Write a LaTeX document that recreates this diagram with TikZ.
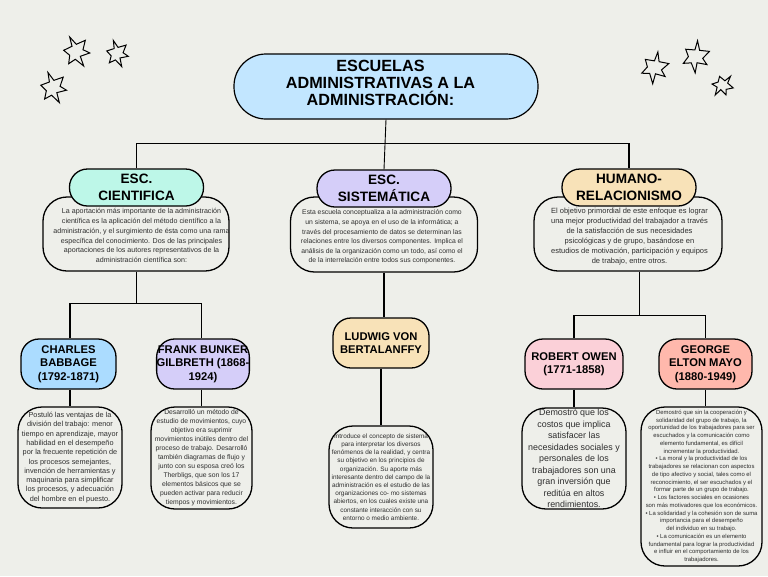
\documentclass[tikz,border=0pt]{standalone}
\usepackage{fontspec}
\setmainfont{Liberation Sans}
\definecolor{paper}{HTML}{EEEFEA}
\definecolor{inkgray}{HTML}{2E2E2E}
\definecolor{skyblue}{HTML}{C2E6FF}
\definecolor{mint}{HTML}{BDF7E8}
\definecolor{lilac}{HTML}{D5CEF9}
\definecolor{sand}{HTML}{F8E2B8}
\definecolor{babyblue}{HTML}{ABDCFF}
\definecolor{rosy}{HTML}{FBD0D8}
\definecolor{salmon}{HTML}{FFB8AC}
\newcommand{\sizedfont}[2]{\fontsize{#1}{#2}\selectfont}
\begin{document}
\begin{tikzpicture}[x=1pt, y=-1pt]
	\tikzstyle{title}  = [draw=black, line width=1.2pt, fill=skyblue, rounded corners=32pt, minimum width=304pt, minimum height=65pt, inner sep=0pt]
	\tikzstyle{titletext} = [inner sep=0pt, align=center, font=\sizedfont{16.2}{17}\bfseries]
	\tikzstyle{school} = [draw=black, line width=1.3pt, rounded corners=18pt, minimum width=134pt, minimum height=37pt, inner sep=0pt, align=center, font=\sizedfont{13.6}{16.5}\bfseries]
	\tikzstyle{person} = [draw=black, line width=1.3pt, rounded corners=18pt, minimum height=50pt, inner sep=0pt, align=center, font=\sizedfont{11.2}{13.5}\bfseries]
	\tikzstyle{blurb}  = [draw=black, line width=1.3pt, fill=paper, text=inkgray, rounded corners=24pt, inner sep=0pt, align=center]
	\tikzstyle{blurbtext} = [text=inkgray, inner sep=0pt, align=center]
	\tikzstyle{link}   = [draw=black, line width=1.5pt]
	\tikzstyle{doodle} = [draw=black, line width=1pt, line join=miter]

	\useasboundingbox (0, 0) rectangle (768, 576);
	\fill[paper] (0, 0) rectangle (768, 576);

	\foreach \x/\y/\s/\r in {76/51/1/0, 117/53/0.85/-8, 53/87/1/-5, 655/67/1/-35, 696/56/1/-30, 723/85/0.75/-65}
		\draw[doodle, shift={(\x, \y)}, rotate=\r, scale=\s] (-6.3,-14) -- (0.3,-6.7) -- (9.3,-10.7) -- (7,-1.3) -- (13.7,2) -- (4.3,5.3) -- (7.7,15) -- (-0.7,8.3) -- (-7.3,12.7) -- (-6.3,4.3) -- (-12.3,-0.7) -- (-4,-4.7) -- cycle;

	\node[title] (root) at (386, 86.5) {};
	\node[titletext] (roottext) at (380.5, 82.5) {ESCUELAS\\ADMINISTRATIVAS A LA\\ADMINISTRACIÓN:};

	% the boxes with the long texts go first, the titles sit on their top edge
	\node[blurb, minimum width=186pt, minimum height=74pt] (cientdesc) at (136, 234) {};
	\node[blurb, minimum width=187pt, minimum height=75pt] (sistdesc) at (384, 234.5) {};
	\node[blurb, minimum width=188pt, minimum height=74pt] (humandesc) at (628, 234) {};

	\node[blurbtext, font=\sizedfont{7.1}{9.9}] (cienttext) at (141.5, 235.5) {La aportación más importante de la administración\\científica es la aplicación del método científico a la\\administración, y el surgimiento de ésta como una rama\\específica del conocimiento. Dos de las principales\\aportaciones de los autores representativos de la\\administración científica son:};
	\node[blurbtext, font=\sizedfont{6.8}{9.6}] (sisttext) at (382, 237) {Esta escuela conceptualiza a la administración como\\un sistema, se apoya en el uso de la informática; a\\través del procesamiento de datos se determinan las\\relaciones entre los diversos componentes. Implica el\\análisis de la organización como un todo, así como el\\de la interrelación entre todos sus componentes.};
	\node[blurbtext, font=\sizedfont{7.5}{10}] (humantext) at (629.5, 237) {El objetivo primordial de este enfoque es lograr\\una mejor productividad del trabajador a través\\de la satisfacción de sus necesidades\\psicológicas y de grupo, basándose en\\estudios de motivación, participación y equipos\\de trabajo, entre otros.};

	\foreach \name/\x/\y/\tint/\txt in {cient/136.5/187.5/mint/{ESC.\\CIENTIFICA}, sist/384/188.5/lilac/{ESC.\\SISTEMÁTICA}, human/629/187.5/sand/{HUMANO-\\RELACIONISMO}}
		\node[school, fill=\tint] (\name) at (\x, \y) {\txt};

	\foreach \name/\x/\y/\w/\tint/\txt in {babbage/68.5/364/95/babyblue/{CHARLES\\BABBAGE\\(1792-1871)}, gilbreth/203/364/92/lilac/{FRANK BUNKER\\GILBRETH (1868-\\1924)}, ludwig/381/343/96/sand/{LUDWIG VON\\BERTALANFFY}, owen/574/364/98/rosy/{ROBERT OWEN\\(1771-1858)}, mayo/705.5/364/93/salmon/{GEORGE\\ELTON MAYO\\(1880-1949)}}
		\node[person, fill=\tint, minimum width=\w pt] (\name) at (\x, \y) {\txt};

	\node[blurb, minimum width=104pt, minimum height=101pt, font=\sizedfont{7.3}{9.3}] (babbagedesc) at (70, 457.5) {Postuló las ventajas de la\\división del trabajo: menor\\tiempo en aprendizaje, mayor\\habilidad en el desempeño\\por la frecuente repetición de\\los procesos semejantes,\\invención de herramientas y\\maquinaria para simplificar\\los procesos, y adecuación\\del hombre en el puesto.};
	\node[blurb, minimum width=101pt, minimum height=102pt, font=\sizedfont{6.8}{9}] (gilbrethdesc) at (201.5, 458) {Desarrolló un método de\\estudio de movimientos, cuyo\\objetivo era suprimir\\movimientos inútiles dentro del\\proceso de trabajo. Desarrolló\\también diagramas de flujo y\\junto con su esposa creó los\\Therbligs, que son los 17\\elementos básicos que se\\pueden activar para reducir\\tiempos y movimientos.};
	\node[blurb, minimum width=104pt, minimum height=102pt, font=\sizedfont{6.4}{8.2}] (ludwigdesc) at (381, 477) {Introduce el concepto de sistema\\para interpretar los diversos\\fenómenos de la realidad, y centra\\su objetivo en los principios de\\organización. Su aporte más\\interesante dentro del campo de la\\administración es el estudio de las\\organizaciones co- mo sistemas\\abiertos, en los cuales existe una\\constante interacción con su\\entorno o medio ambiente.};
	\node[blurb, minimum width=104pt, minimum height=101pt, font=\sizedfont{8.9}{11.5}] (owendesc) at (574, 458.5) {Demostró que los\\costos que implica\\satisfacer las\\necesidades sociales y\\personales de los\\trabajadores son una\\gran inversión que\\reditúa en altos\\rendimientos.};
	\node[blurb, minimum width=121pt, minimum height=159pt, font=\sizedfont{5.9}{7.75}] (mayodesc) at (701.5, 486.5) {Demostró que sin la cooperación y\\solidaridad del grupo de trabajo, la\\oportunidad de los trabajadores para ser\\escuchados y la comunicación como\\elemento fundamental, es difícil\\incrementar la productividad.\\• La moral y la productividad de los\\trabajadores se relacionan con aspectos\\de tipo afectivo y social, tales como el\\reconocimiento, el ser escuchados y el\\formar parte de un grupo de trabajo.\\• Los factores sociales en ocasiones\\son más motivadores que los económicos.\\• La solidaridad y la cohesión son de suma\\importancia para el desempeño\\del individuo en su trabajo.\\• La comunicación es un elemento\\fundamental para lograr la productividad\\e influir en el comportamiento de los\\trabajadores.};

	\coordinate (rootjoin) at (385, 143.5);
	\coordinate (cientjoin) at (136.5, 303.5);
	\coordinate (humanjoin) at (639.5, 315.5);

	\draw[link, line width=0.9pt] (root.south) -- (sist.north);
	\draw[link] (cient.north) |- (rootjoin) -| (human.north);

	\draw[link] (cientdesc.south -| cientjoin) -- (cientjoin);
	\draw[link] (babbagedesc.north |- babbage.north) |- (cientjoin) -| (gilbrethdesc.north |- gilbreth.north);
	\draw[link] (humanjoin |- humandesc.south) -- (humanjoin);
	\draw[link] (owen.north) |- (humanjoin) -| (mayo.north);
	\draw[link] (sistdesc.south) -- (sistdesc.south |- ludwig.north);

	\foreach \from/\to in {babbage/babbagedesc, gilbreth/gilbrethdesc}
		\draw[link] (\to.north |- \from.south) -- (\to.north);
	\foreach \from/\to in {ludwig/ludwigdesc, owen/owendesc, mayo/mayodesc}
		\draw[link] (\from.south) -- (\from.south |- \to.north);
\end{tikzpicture}
\end{document}
